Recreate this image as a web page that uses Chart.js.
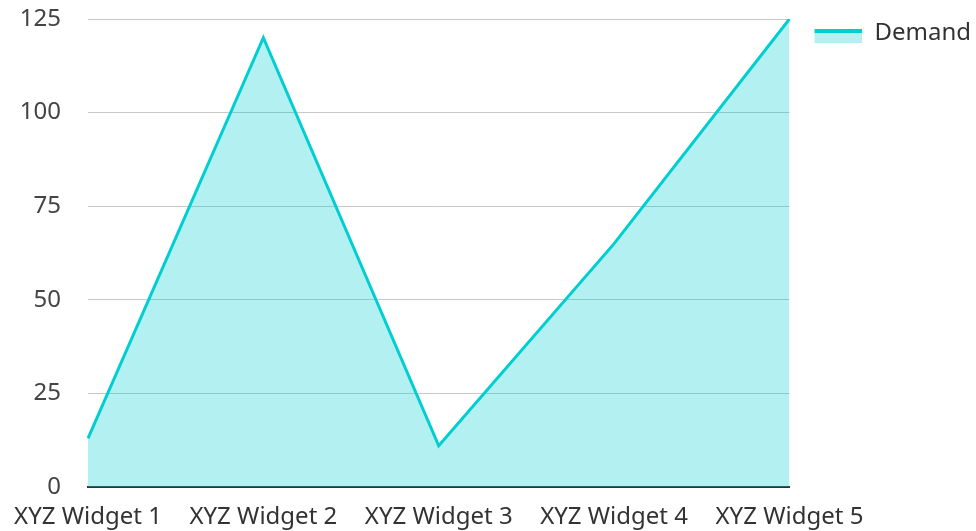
<!DOCTYPE html>
<html>
<head>
<meta charset="utf-8">
<script src="https://cdn.jsdelivr.net/npm/chart.js@4"></script>
<style>
html,body{margin:0;padding:0;background:#fff;}
#wrap{width:976px;height:531px;position:relative;}
</style>
</head>
<body>
<div id="wrap"><canvas id="c" width="976" height="531"></canvas></div>
<script>
const categories = ["XYZ Widget 1", "XYZ Widget 2", "XYZ Widget 3", "XYZ Widget 4", "XYZ Widget 5"];
const demand = [13, 120, 11, 65, 125];
const seriesName = "Demand";
const yTicks = [0, 25, 50, 75, 100, 125];

const lineColor = "#00CED1";
const fillColor = "rgba(0,206,209,0.3)";

// legend swatch (line on top of filled area), with transparent margin on the left/top
const sw = document.createElement("canvas");
sw.width = 66; sw.height = 24;
const sctx = sw.getContext("2d");
sctx.fillStyle = fillColor;
sctx.fillRect(18, 8, 48, 14);
sctx.fillStyle = lineColor;
sctx.fillRect(18, 8, 48, 4);

const legendShift = {
  id: "legendShift",
  afterLayout(chart) {
    chart.legend.left += 5;
    chart.legend.right += 5;
  }
};

Chart.defaults.font.family = "'Noto Sans', 'Open Sans', sans-serif";
Chart.defaults.font.size = 24;
Chart.defaults.color = "#444";

new Chart(document.getElementById("c"), {
  type: "line",
  data: {
    labels: categories,
    datasets: [{
      label: seriesName,
      data: demand,
      borderColor: lineColor,
      backgroundColor: fillColor,
      borderWidth: 3,
      fill: "origin",
      tension: 0,
      pointRadius: 0,
      pointHoverRadius: 0
    }]
  },
  plugins: [legendShift],
  options: {
    responsive: false,
    animation: false,
    devicePixelRatio: 1,
    layout: { padding: { left: 0, right: 0, top: 19, bottom: 0 } },
    plugins: {
      legend: {
        position: "right",
        align: "start",
        labels: {
          usePointStyle: true,
          pointStyle: sw,
          pointStyleWidth: 66,
          boxHeight: 24,
          padding: 2,
          color: "#333",
          font: { size: 24 }
        }
      },
      tooltip: { enabled: false }
    },
    scales: {
      x: {
        z: 1,
        afterFit: (s) => { s.height = 44; s.paddingLeft = 0; s.paddingRight = 0; },
        grid: { display: false, drawTicks: false },
        border: { display: true, color: "#333", width: 2 },
        ticks: { padding: 16, color: "#333", maxRotation: 0, autoSkip: false }
      },
      y: {
        min: 0,
        max: 125,
        afterBuildTicks: (s) => { s.ticks = yTicks.map(v => ({ value: v })); },
        afterFit: (s) => { s.width = 88; },
        grid: { color: "#c8c8c8", lineWidth: 1, drawTicks: true, tickLength: 27, tickColor: "rgba(0,0,0,0)" },
        border: { display: false },
        ticks: { padding: 0, color: "#444" }
      }
    }
  }
});
</script>
</body>
</html>
